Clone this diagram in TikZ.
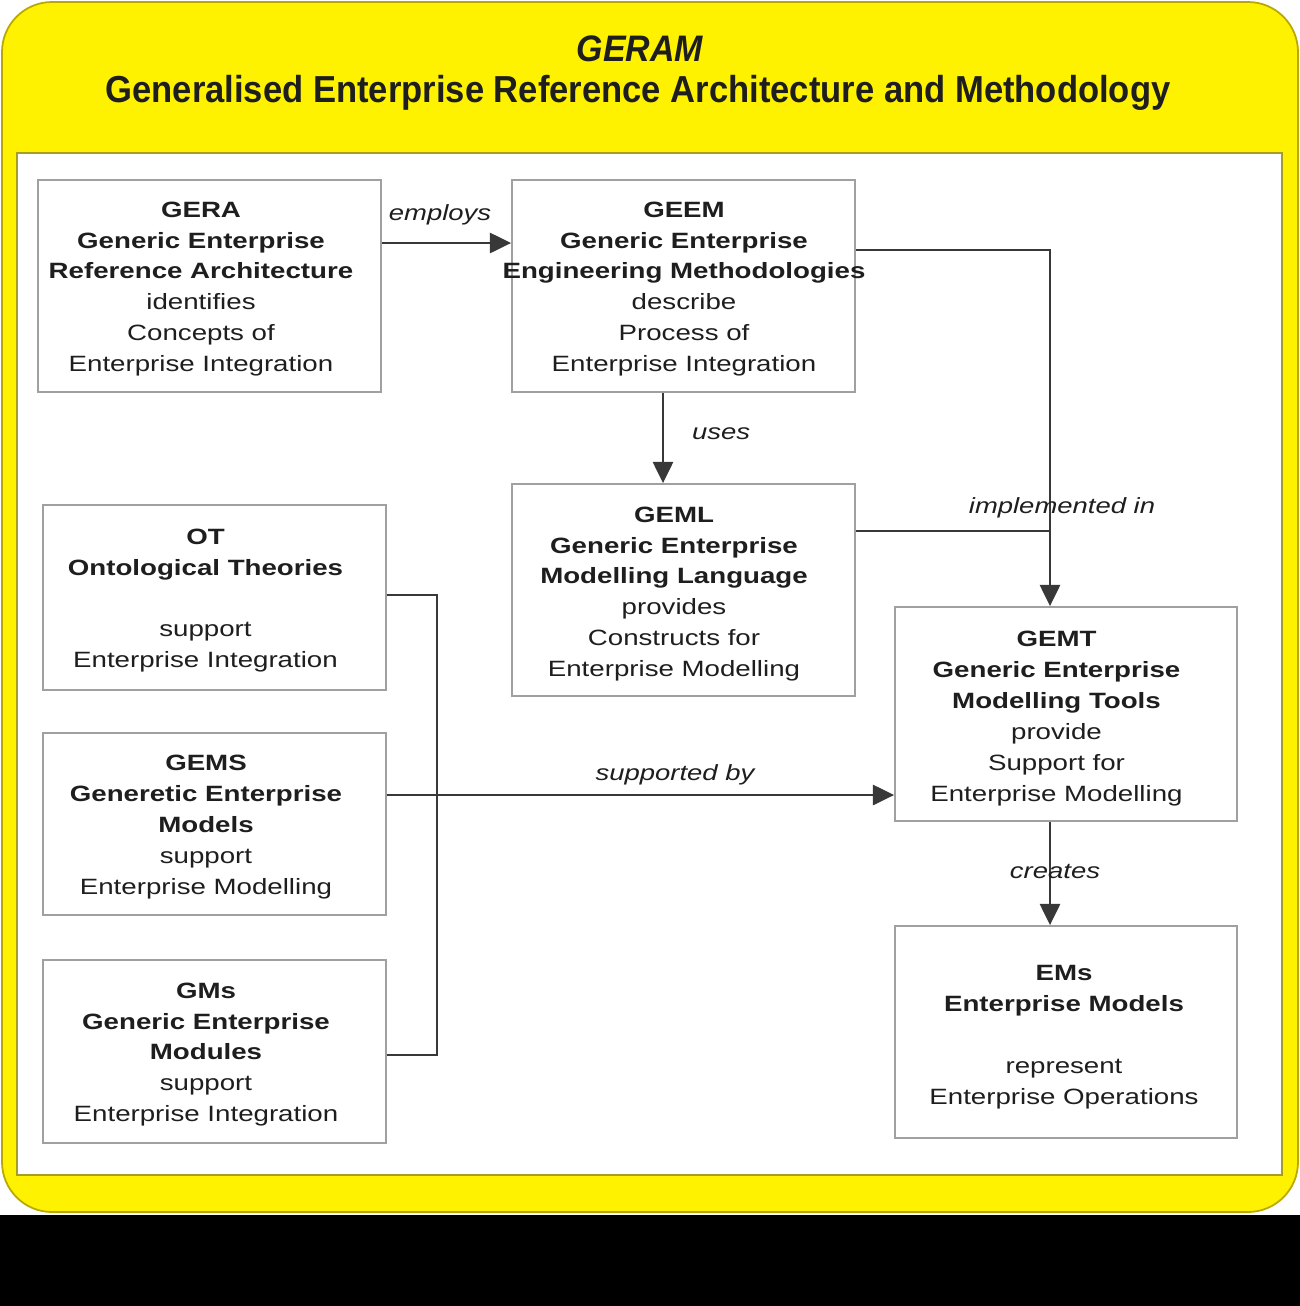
\documentclass[tikz,border=0pt]{standalone}
\usepackage{fontspec}
\usetikzlibrary{arrows.meta}
\setmainfont{Liberation Sans}
\newfontfamily\boxfont[FakeStretch=1.25]{Liberation Sans}
\newfontfamily\titlefont[FakeStretch=0.92]{Liberation Sans}
\definecolor{geryellow}{HTML}{FFF200}
\definecolor{yellowedge}{HTML}{B8A800}
\definecolor{boxedge}{HTML}{A0A0A0}
\definecolor{linecol}{HTML}{383838}
\definecolor{txt}{HTML}{1E1E1E}
\tikzset{
  box/.style={draw=boxedge, line width=1.1pt, fill=white, inner sep=0pt},
  boxtext/.style={inner sep=0pt, text=txt, align=center, font=\boxfont\fontsize{12.6}{17.6}\selectfont},
  wire/.style={draw=linecol, line width=1.1pt},
  conn/.style={wire, -{Triangle[length=12pt,width=11.5pt]}},
  lbl/.style={text=txt, font=\boxfont\fontsize{12.5}{15}\selectfont\itshape, inner sep=0pt}
}
\begin{document}
\begin{tikzpicture}[x=0.02cm,y=-0.02cm]
\useasboundingbox (0,0) rectangle (1300,1306);
% black band
\fill[black] (0,1215) rectangle (1300,1306);
% yellow frame
\draw[fill=geryellow, draw=yellowedge, line width=1pt, rounded corners=1cm] (2,2) rectangle (1298,1212);
\draw[fill=white, draw=yellowedge!70!gray, line width=0.9pt] (17,153) rectangle (1282,1175);
% titles
\node[anchor=base, text=txt, font=\titlefont\fontsize{21}{24}\selectfont\bfseries\itshape, inner sep=0pt] (geram) at (640,61) {GERAM};
\node[anchor=base, text=txt, font=\titlefont\fontsize{21.4}{24}\selectfont\bfseries, inner sep=0pt] (title) at (638,102) {Generalised Enterprise Reference Architecture and Methodology};
% boxes
\node[box, minimum width=6.86cm, minimum height=4.24cm] (GERA) at (209.5,286) {};
\node[box, minimum width=6.86cm, minimum height=4.24cm] (GEEM) at (683.5,286) {};
\node[box, minimum width=6.86cm, minimum height=4.24cm] (GEML) at (683.5,590) {};
\node[box, minimum width=6.86cm, minimum height=3.70cm] (OT) at (214.5,597.5) {};
\node[box, minimum width=6.86cm, minimum height=3.64cm] (GEMS) at (214.5,824) {};
\node[box, minimum width=6.86cm, minimum height=3.66cm] (GMs) at (214.5,1051.5) {};
\node[box, minimum width=6.84cm, minimum height=4.28cm] (GEMT) at (1066,714) {};
\node[box, minimum width=6.84cm, minimum height=4.24cm] (EMs) at (1066,1032) {};
% box texts
\node[boxtext] (GERAtxt) at (201,289)
  {\bfseries GERA\\\bfseries Generic Enterprise\\\bfseries Reference Architecture\\identifies\\Concepts of\\Enterprise Integration};
\node[boxtext] (GEEMtxt) at (684,289)
  {\bfseries GEEM\\\bfseries Generic Enterprise\\\bfseries Engineering Methodologies\\describe\\Process of\\Enterprise Integration};
\node[boxtext] (GEMLtxt) at (674,594)
  {\bfseries GEML\\\bfseries Generic Enterprise\\\bfseries Modelling Language\\provides\\Constructs for\\Enterprise Modelling};
\node[boxtext] (OTtxt) at (205.5,600.5)
  {\bfseries OT\\\bfseries Ontological Theories\\[17.6pt]support\\Enterprise Integration};
\node[boxtext] (GEMStxt) at (206,827)
  {\bfseries GEMS\\\bfseries Generetic Enterprise\\\bfseries Models\\support\\Enterprise Modelling};
\node[boxtext] (GMstxt) at (206,1054.5)
  {\bfseries GMs\\\bfseries Generic Enterprise\\\bfseries Modules\\support\\Enterprise Integration};
\node[boxtext] (GEMTtxt) at (1056.5,718.5)
  {\bfseries GEMT\\\bfseries Generic Enterprise\\\bfseries Modelling Tools\\provide\\Support for\\Enterprise Modelling};
\node[boxtext] (EMstxt) at (1064,1037)
  {\bfseries EMs\\\bfseries Enterprise Models\\[17.6pt]represent\\Enterprise Operations};
% junctions
\coordinate (jImpl) at (1050,531);
\coordinate (jSup) at (437,795);
% connectors
\draw[conn] (GERA.east |- 0,243) -- (GEEM.west |- 0,243);
\node[lbl] (lEmploys) at (440,215) {employs};
\draw[conn] (GEEM.south -| 663,0) -- (GEML.north -| 663,0);
\node[lbl] (lUses) at (721,434) {uses};
\draw[wire] (GEEM.east |- 0,250) -| (jImpl);
\draw[wire] (GEML.east |- jImpl) -- (jImpl);
\draw[conn] (jImpl) -- (jImpl |- GEMT.north);
\node[lbl] (lImpl) at (1062,508) {implemented in};
\draw[wire] (OT.east |- 0,595) -| (jSup) |- (GMs.east |- 0,1055);
\draw[conn] (GEMS.east |- jSup) -- (GEMT.west |- jSup);
\node[lbl] (lSup) at (675,775) {supported by};
\draw[conn] (GEMT.south -| 1050,0) -- (EMs.north -| 1050,0);
\node[lbl] (lCreates) at (1055,871) {creates};
\end{tikzpicture}
\end{document}
